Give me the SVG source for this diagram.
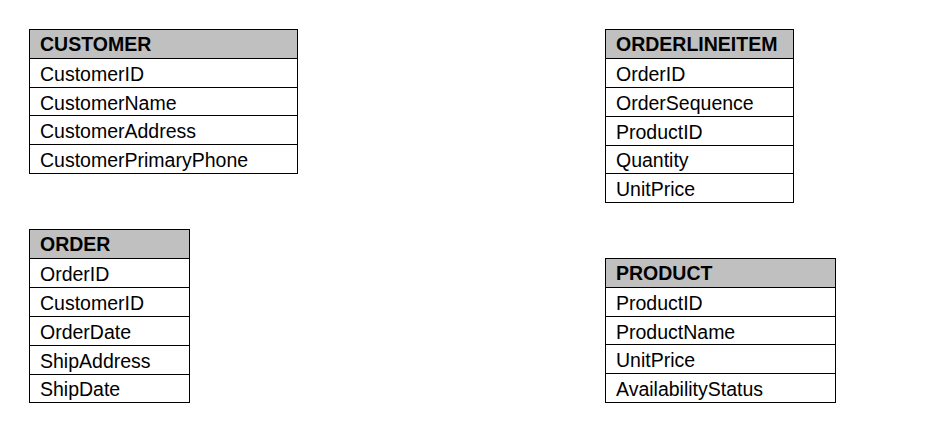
<svg xmlns="http://www.w3.org/2000/svg" width="946" height="427" viewBox="0 0 946 427">
<style>
rect.h{fill:#c0c0c0;stroke:#000;stroke-width:1}
rect.r{fill:#fff;stroke:#000;stroke-width:1}
text{font-family:"Liberation Sans",Arial,sans-serif;font-size:19.5px;fill:#000}
text.t{font-weight:bold}
</style>
<rect width="946" height="427" fill="#fff"/>
<g id="customer">
<rect class="h" x="29.5" y="29.5" width="268" height="29"/>
<rect class="r" x="29.5" y="58.5" width="268" height="29"/>
<rect class="r" x="29.5" y="87.5" width="268" height="28"/>
<rect class="r" x="29.5" y="115.5" width="268" height="29"/>
<rect class="r" x="29.5" y="144.5" width="268" height="29"/>
<text class="t" x="40" y="51">CUSTOMER</text>
<text x="40" y="81">CustomerID</text>
<text x="40" y="110">CustomerName</text>
<text x="40" y="138">CustomerAddress</text>
<text x="40" y="167">CustomerPrimaryPhone</text>
</g>
<g id="order">
<rect class="h" x="29.5" y="229.5" width="160" height="29"/>
<rect class="r" x="29.5" y="258.5" width="160" height="29"/>
<rect class="r" x="29.5" y="287.5" width="160" height="29"/>
<rect class="r" x="29.5" y="316.5" width="160" height="29"/>
<rect class="r" x="29.5" y="345.5" width="160" height="29"/>
<rect class="r" x="29.5" y="374.5" width="160" height="28"/>
<text class="t" x="40" y="251">ORDER</text>
<text x="40" y="281">OrderID</text>
<text x="40" y="310">CustomerID</text>
<text x="40" y="339">OrderDate</text>
<text x="40" y="368">ShipAddress</text>
<text x="40" y="396">ShipDate</text>
</g>
<g id="orderlineitem">
<rect class="h" x="605.5" y="29.5" width="188" height="29"/>
<rect class="r" x="605.5" y="58.5" width="188" height="29"/>
<rect class="r" x="605.5" y="87.5" width="188" height="29"/>
<rect class="r" x="605.5" y="116.5" width="188" height="29"/>
<rect class="r" x="605.5" y="145.5" width="188" height="28"/>
<rect class="r" x="605.5" y="173.5" width="188" height="29"/>
<text class="t" x="616" y="51">ORDERLINEITEM</text>
<text x="616" y="81">OrderID</text>
<text x="616" y="110">OrderSequence</text>
<text x="616" y="139">ProductID</text>
<text x="616" y="167">Quantity</text>
<text x="616" y="196">UnitPrice</text>
</g>
<g id="product">
<rect class="h" x="605.5" y="258.5" width="230" height="29"/>
<rect class="r" x="605.5" y="287.5" width="230" height="29"/>
<rect class="r" x="605.5" y="316.5" width="230" height="28"/>
<rect class="r" x="605.5" y="344.5" width="230" height="29"/>
<rect class="r" x="605.5" y="373.5" width="230" height="29"/>
<text class="t" x="616" y="280">PRODUCT</text>
<text x="616" y="310">ProductID</text>
<text x="616" y="339">ProductName</text>
<text x="616" y="367">UnitPrice</text>
<text x="616" y="396">AvailabilityStatus</text>
</g>
<g id="connectors"></g>
</svg>
